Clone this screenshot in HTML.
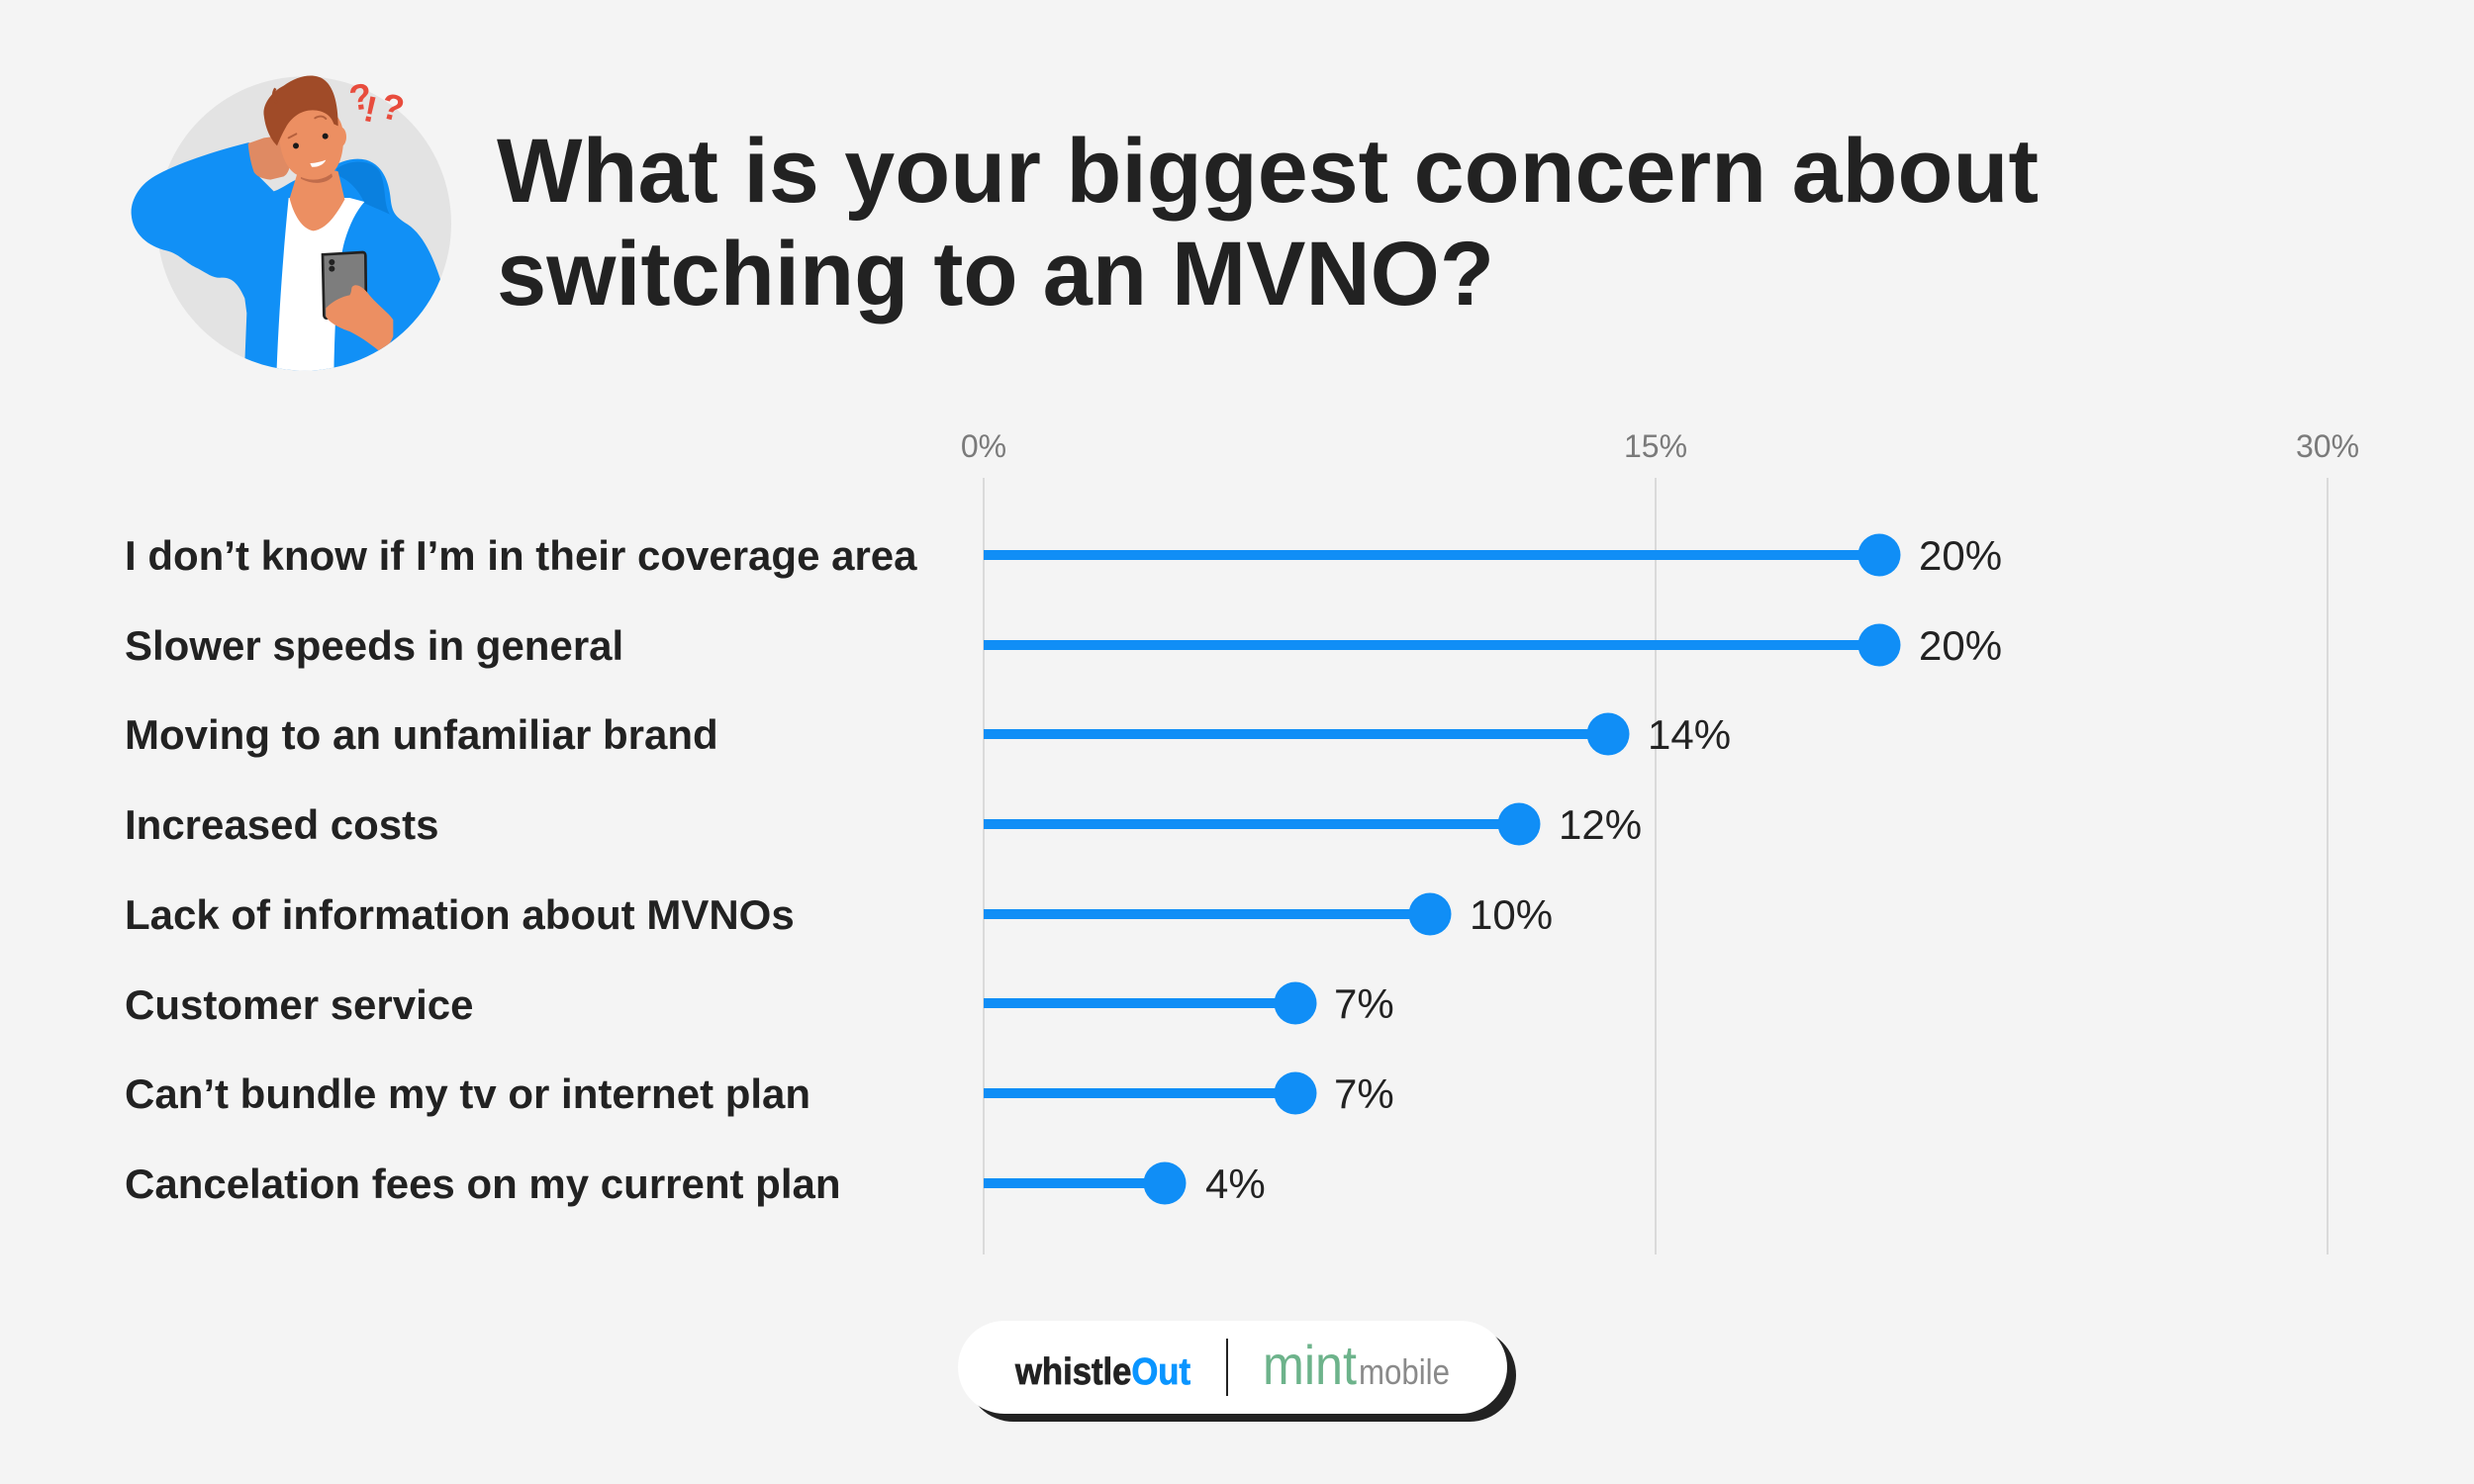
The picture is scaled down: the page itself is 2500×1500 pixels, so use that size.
<!DOCTYPE html>
<html>
<head>
<meta charset="utf-8">
<style>
  html,body{margin:0;padding:0;background:#f4f4f4;}
  svg{display:block;}
</style>
</head>
<body>
<svg width="2500" height="1500" viewBox="0 0 2500 1500" xmlns="http://www.w3.org/2000/svg">
  <defs>
    <clipPath id="clipU">
      <circle cx="622" cy="528" r="446"/>
      <rect x="0" y="250" width="452" height="560"/>
    </clipPath>
  </defs>
  <rect width="2500" height="1500" fill="#f4f4f4"/>

  <!-- Illustration -->
  <g transform="translate(100,50) scale(0.33333)">
    <circle cx="622" cy="528" r="446" fill="#e3e3e3"/>
    <g clip-path="url(#clipU)">
      <path fill="#1190f6" d="M 455 282 C 380 300, 250 340, 180 378 C 120 408, 95 460, 98 500 C 102 560, 150 598, 205 610 C 245 620, 262 648, 300 664 C 330 680, 345 694, 372 692 C 405 690, 425 715, 442 755 L 448 800 L 440 1000 L 1100 1000 L 1100 700 L 1036 700 C 1010 620, 980 560, 935 530 C 905 510, 890 500, 885 460 C 880 400, 860 350, 810 335 C 770 325, 730 340, 700 360 L 610 390 C 580 400, 560 420, 530 430 L 480 380 Z"/>
      <path fill="#0a80df" d="M 720 362 C 760 332, 830 332, 852 372 C 872 420, 862 470, 882 500 L 805 466 C 785 420, 752 392, 722 382 Z"/>
      <path fill="#ffffff" d="M 575 450 C 560 600, 545 800, 538 990 L 712 990 C 715 800, 725 650, 745 580 C 760 530, 780 490, 805 462 L 760 450 Z"/>
      <path fill="#ec8f62" d="M 600 380 C 640 370, 700 360, 725 370 L 745 455 C 720 500, 690 545, 650 550 C 615 545, 590 500, 578 452 Z"/>
      <path fill="#c06c4b" d="M 612 392 C 650 412, 690 407, 708 386 L 703 368 L 612 378 Z"/>
      <!-- phone -->
      <path fill="#7d7d7d" stroke="#222" stroke-width="8" d="M 678 622 L 800 615 C 805 615, 808 620, 808 625 L 810 800 L 690 815 C 685 815, 682 810, 682 805 Z"/>
      <circle cx="706" cy="645" r="9" fill="#222"/>
      <circle cx="706" cy="665" r="9" fill="#222"/>
      <!-- hand holding phone -->
      <path fill="#ec8f62" d="M 688 785 C 700 770, 730 750, 760 745 C 770 730, 760 720, 775 715 C 790 712, 810 730, 820 745 C 850 780, 880 800, 892 820 L 892 870 C 880 900, 865 912, 850 915 C 820 890, 790 870, 760 855 C 730 845, 700 830, 688 810 Z"/>
    </g>
    <!-- hand behind head -->
    <path fill="#df8a63" d="M 452 285 L 500 268 L 545 262 C 565 280, 578 300, 580 345 C 578 365, 570 380, 560 385 L 520 395 C 495 392, 478 385, 470 372 C 462 350, 455 320, 452 285 Z"/>
    <!-- head -->
    <ellipse cx="732" cy="265" rx="18" ry="30" fill="#ec8f62"/>
    <path fill="#ec8f62" d="M 545 250 C 540 200, 580 170, 640 170 C 700 170, 735 200, 740 250 C 745 310, 730 360, 700 380 C 670 400, 630 400, 600 380 C 565 360, 548 310, 545 250 Z"/>
    <path fill="#a04b28" d="M 500 200 C 495 170, 520 130, 560 110 C 600 80, 650 70, 680 90 C 710 110, 725 160, 725 232 L 712 226 C 705 205, 690 190, 660 185 C 620 180, 590 200, 570 230 C 555 255, 545 280, 540 292 C 520 272, 505 242, 500 200 Z"/>
    <path d="M 535 118 C 525 135, 528 150, 540 162" stroke="#a04b28" stroke-width="8" fill="none"/>
    <circle cx="597" cy="292" r="9" fill="#1a1a1a"/>
    <circle cx="686" cy="263" r="9" fill="#1a1a1a"/>
    <path d="M 575 268 L 598 256" stroke="#b5603d" stroke-width="6" fill="none" stroke-linecap="round"/>
    <path d="M 655 208 C 668 200, 680 202, 688 210" stroke="#b5603d" stroke-width="6" fill="none" stroke-linecap="round"/>
    <path fill="#ffffff" d="M 640 345 C 660 345, 680 338, 688 335 C 680 352, 660 358, 645 356 Z"/>
    <!-- question marks -->
    <text x="760" y="182" font-family="Liberation Sans, sans-serif" font-weight="bold" font-size="110" fill="#e84c3d" transform="rotate(-8 790 150)">?</text>
    <text x="805" y="218" font-family="Liberation Sans, sans-serif" font-weight="bold" font-size="110" fill="#e84c3d" transform="rotate(12 820 180)">!</text>
    <text x="858" y="212" font-family="Liberation Sans, sans-serif" font-weight="bold" font-size="110" fill="#e84c3d" transform="rotate(14 885 170)">?</text>
  </g>

  <!-- Title -->
  <g font-family="Liberation Sans, sans-serif" font-weight="bold" font-size="92" fill="#222">
    <text x="502" y="204" textLength="1558" lengthAdjust="spacingAndGlyphs">What is your biggest concern about</text>
    <text x="502" y="308" textLength="1008" lengthAdjust="spacingAndGlyphs">switching to an MVNO?</text>
  </g>

  <!-- Axis ticks -->
  <g font-family="Liberation Sans, sans-serif" font-size="32" fill="#7a7a7a" text-anchor="middle">
    <text x="994" y="462">0%</text>
    <text x="1673" y="462">15%</text>
    <text x="2352" y="462">30%</text>
  </g>
  <g stroke="#d2d2d2" stroke-width="1.5">
    <line x1="994" y1="483" x2="994" y2="1268"/>
    <line x1="1673" y1="483" x2="1673" y2="1268"/>
    <line x1="2352" y1="483" x2="2352" y2="1268"/>
  </g>

  <!-- Category labels -->
  <g font-family="Liberation Sans, sans-serif" font-weight="bold" font-size="42" fill="#222">
    <text x="126" y="576">I don’t know if I’m in their coverage area</text>
    <text x="126" y="667">Slower speeds in general</text>
    <text x="126" y="757">Moving to an unfamiliar brand</text>
    <text x="126" y="848">Increased costs</text>
    <text x="126" y="939">Lack of information about MVNOs</text>
    <text x="126" y="1030">Customer service</text>
    <text x="126" y="1120">Can’t bundle my tv or internet plan</text>
    <text x="126" y="1211">Cancelation fees on my current plan</text>
  </g>

  <!-- Bars -->
  <g stroke="#108ef6" stroke-width="10">
    <line x1="994" y1="561" x2="1899" y2="561"/>
    <line x1="994" y1="652" x2="1899" y2="652"/>
    <line x1="994" y1="742" x2="1625" y2="742"/>
    <line x1="994" y1="833" x2="1535" y2="833"/>
    <line x1="994" y1="924" x2="1445" y2="924"/>
    <line x1="994" y1="1014" x2="1309" y2="1014"/>
    <line x1="994" y1="1105" x2="1309" y2="1105"/>
    <line x1="994" y1="1196" x2="1177" y2="1196"/>
  </g>
  <g fill="#108ef6">
    <circle cx="1899" cy="561" r="21.5"/>
    <circle cx="1899" cy="652" r="21.5"/>
    <circle cx="1625" cy="742" r="21.5"/>
    <circle cx="1535" cy="833" r="21.5"/>
    <circle cx="1445" cy="924" r="21.5"/>
    <circle cx="1309" cy="1014" r="21.5"/>
    <circle cx="1309" cy="1105" r="21.5"/>
    <circle cx="1177" cy="1196" r="21.5"/>
  </g>

  <!-- Value labels -->
  <g font-family="Liberation Sans, sans-serif" font-size="42" fill="#222">
    <text x="1939" y="576">20%</text>
    <text x="1939" y="667">20%</text>
    <text x="1665" y="757">14%</text>
    <text x="1575" y="848">12%</text>
    <text x="1485" y="939">10%</text>
    <text x="1348" y="1029">7%</text>
    <text x="1348" y="1120">7%</text>
    <text x="1218" y="1211">4%</text>
  </g>

  <!-- Logo pill -->
  <rect x="977" y="1343" width="555" height="94" rx="47" fill="#222"/>
  <rect x="968" y="1335" width="555" height="94" rx="47" fill="#ffffff"/>
  <text x="1026" y="1399" font-family="Liberation Sans, sans-serif" font-weight="bold" font-size="38" fill="#222" stroke="#222" stroke-width="0.8" textLength="177" lengthAdjust="spacingAndGlyphs">whistle<tspan fill="#0a95ff" stroke="#0a95ff">Out</tspan></text>
  <line x1="1240" y1="1353" x2="1240" y2="1411" stroke="#222" stroke-width="2"/>
  <text x="1276" y="1399" font-family="Liberation Sans, sans-serif" font-size="56" fill="#6db38b" textLength="95" lengthAdjust="spacingAndGlyphs">mint</text>
  <text x="1373" y="1399" font-family="Liberation Sans, sans-serif" font-size="36" fill="#8a8a8a" textLength="92" lengthAdjust="spacingAndGlyphs">mobile</text>
</svg>
</body>
</html>
